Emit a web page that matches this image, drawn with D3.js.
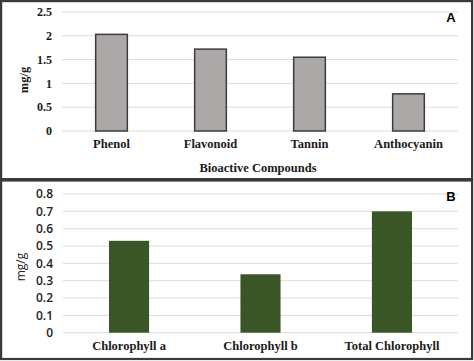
<!DOCTYPE html>
<meta charset="utf-8">
<style>
body { margin: 0; background: #fff; }
.grid line { stroke: #dcdcdc; stroke-width: 1; }
.serif { font-family: "Liberation Serif", "Times New Roman", serif; font-weight: bold; fill: #1a1a1a; }
.sans { font-family: "Open Sans", "Liberation Sans", sans-serif; fill: #222; }
.panel { fill: none; stroke: #3a3a3a; stroke-width: 2.2; }
</style>
<svg width="474" height="361"></svg>
<script src="https://d3js.org/d3.v7.min.js"></script>
<script>

var compounds = ["Phenol", "Flavonoid", "Tannin", "Anthocyanin"],
    compoundValues = [2.03, 1.72, 1.55, 0.78],
    ticksA = [0, 0.5, 1, 1.5, 2, 2.5];

var chloroNames = ["Chlorophyll a", "Chlorophyll b", "Total Chlorophyll"],
    chloroValues = [0.53, 0.337, 0.70],
    ticksB = [0, 0.1, 0.2, 0.3, 0.4, 0.5, 0.6, 0.7, 0.8];

var svg = d3.select("svg");

// panel frames
svg.append("rect").attr("class", "panel").attr("x", 1.1).attr("y", 1.1).attr("width", 471).attr("height", 178);
svg.append("rect").attr("class", "panel").attr("x", 1.1).attr("y", 180.5).attr("width", 471).attr("height", 178.5);

// ---- panel A ----
var xA = d3.scaleBand().domain(compounds).range([62, 458]).paddingInner(0.68).paddingOuter(0.34),
    yA = d3.scaleLinear().domain([0, 2.5]).range([131, 12]);

var gA = svg.append("g");

gA.append("g").attr("class", "grid")
  .selectAll("line").data(ticksA).enter().append("line")
    .attr("x1", 62).attr("x2", 458)
    .attr("y1", function(d) { return yA(d); })
    .attr("y2", function(d) { return yA(d); });

gA.selectAll(".tickA").data(ticksA).enter().append("text")
    .attr("class", "serif")
    .attr("x", 52)
    .attr("y", function(d) { return yA(d); })
    .attr("dy", "0.35em")
    .attr("text-anchor", "end")
    .style("font-size", "12px")
    .text(function(d) { return d; });

gA.selectAll(".barA").data(compounds).enter().append("rect")
    .attr("x", function(d) { return xA(d); })
    .attr("y", function(d, i) { return yA(compoundValues[i]); })
    .attr("width", xA.bandwidth())
    .attr("height", function(d, i) { return yA(0) - yA(compoundValues[i]); })
    .attr("fill", "#ada8a8")
    .attr("stroke", "#3c3c3c")
    .attr("stroke-width", 1.5);

gA.selectAll(".catA").data(compounds).enter().append("text")
    .attr("class", "serif")
    .attr("x", function(d) { return xA(d) + xA.bandwidth() / 2; })
    .attr("y", 148)
    .attr("text-anchor", "middle")
    .style("font-size", "12.5px")
    .text(function(d) { return d; });

gA.append("text").attr("class", "serif")
    .attr("x", 258).attr("y", 172)
    .attr("text-anchor", "middle")
    .style("font-size", "12.5px")
    .text("Bioactive Compounds");

gA.append("text").attr("class", "serif")
    .attr("transform", "translate(28,80) rotate(-90)")
    .attr("text-anchor", "middle")
    .style("font-size", "12.5px")
    .text("mg/g");

gA.append("text")
    .attr("x", 451).attr("y", 22)
    .attr("text-anchor", "middle")
    .style("font-family", "Liberation Sans, Arial, sans-serif")
    .style("font-weight", "bold")
    .style("font-size", "13px")
    .text("A");

// ---- panel B ----
var xB = d3.scaleBand().domain(chloroNames).range([63, 458]).paddingInner(0.695).paddingOuter(0.35),
    yB = d3.scaleLinear().domain([0, 0.8]).range([332.7, 194]);

var gB = svg.append("g");

gB.append("g").attr("class", "grid")
  .selectAll("line").data(ticksB).enter().append("line")
    .attr("x1", 63).attr("x2", 458)
    .attr("y1", function(d) { return yB(d); })
    .attr("y2", function(d) { return yB(d); });

gB.selectAll(".tickB").data(ticksB).enter().append("text")
    .attr("class", "sans")
    .attr("x", 53)
    .attr("y", function(d) { return yB(d); })
    .attr("dy", "0.35em")
    .attr("text-anchor", "end")
    .style("font-size", "12px")
    .style("font-weight", "600")
    .text(function(d) { return d; });

gB.selectAll(".barB").data(chloroNames).enter().append("rect")
    .attr("x", function(d) { return xB(d); })
    .attr("y", function(d, i) { return yB(chloroValues[i]); })
    .attr("width", xB.bandwidth())
    .attr("height", function(d, i) { return yB(0) - yB(chloroValues[i]); })
    .attr("fill", "#3b5626");

gB.selectAll(".catB").data(chloroNames).enter().append("text")
    .attr("class", "serif")
    .attr("x", function(d) { return xB(d) + xB.bandwidth() / 2; })
    .attr("y", 350)
    .attr("text-anchor", "middle")
    .style("font-size", "12.5px")
    .text(function(d) { return d; });

gB.append("text").attr("class", "sans")
    .attr("transform", "translate(25,267) rotate(-90)")
    .attr("text-anchor", "middle")
    .style("font-size", "12px")
    .text("mg/g");

gB.append("text")
    .attr("x", 451).attr("y", 201)
    .attr("text-anchor", "middle")
    .style("font-family", "Liberation Sans, Arial, sans-serif")
    .style("font-weight", "bold")
    .style("font-size", "13px")
    .text("B");

</script>
